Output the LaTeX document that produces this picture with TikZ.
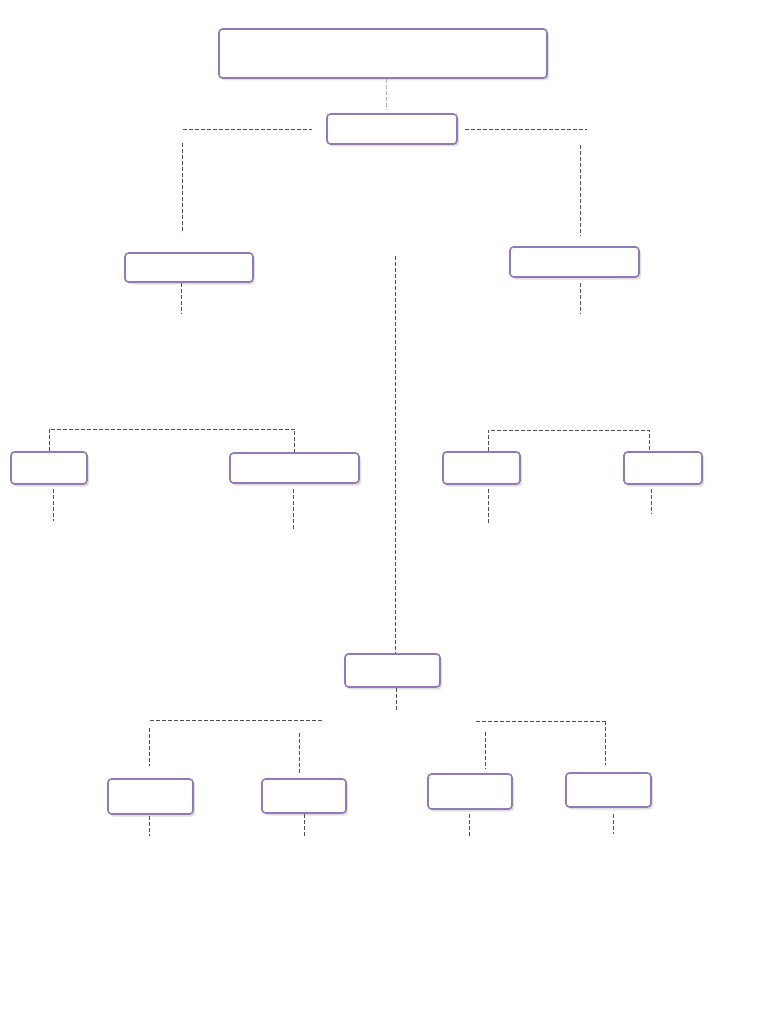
\documentclass[tikz,border=0pt]{standalone}
\usepackage{tikz}
\usetikzlibrary{shadows}
\usepackage{xcolor}
\definecolor{boxline}{RGB}{148,120,190}
\definecolor{linkgray}{RGB}{80,80,80}

\begin{document}
\begin{tikzpicture}[x=1pt,y=-1pt]
\tikzstyle{block} = [rectangle, draw=boxline, line width=1.6pt, fill=white,
rounded corners=3.5pt, inner sep=0pt,
drop shadow={opacity=0.25, shadow xshift=2pt, shadow yshift=-2.5pt}]
\tikzstyle{line} = [draw=linkgray, line width=0.8pt, dash pattern=on 4pt off 2pt];
\tikzstyle{faint} = [draw=gray!60, line width=1pt, dash pattern=on 4pt off 2pt];
\useasboundingbox (0,0) rectangle (768,1024);

% row 1
\node [block, minimum width=328pt, minimum height=49pt] (title) at (383,53.5) {};
\node [block, minimum width=130pt, minimum height=30pt] (root) at (392,129) {};
% row 2
\node [block, minimum width=128pt, minimum height=29pt] (lft) at (189,267.5) {};
\node [block, minimum width=129pt, minimum height=30pt] (rgt) at (574.5,262) {};
% row 3
\node [block, minimum width=76pt, minimum height=32pt] (lfta) at (49,468) {};
\node [block, minimum width=129pt, minimum height=30pt] (lftb) at (294.5,468) {};
\node [block, minimum width=77pt, minimum height=32pt] (rgta) at (481.5,468) {};
\node [block, minimum width=78pt, minimum height=32pt] (rgtb) at (663,468) {};
% row 4
\node [block, minimum width=95pt, minimum height=33pt] (hub) at (392.5,670.5) {};
% row 5
\node [block, minimum width=85pt, minimum height=35pt] (huba) at (150.5,796.5) {};
\node [block, minimum width=84pt, minimum height=34pt] (hubb) at (304,796) {};
\node [block, minimum width=84pt, minimum height=35pt] (hubc) at (470,791.5) {};
\node [block, minimum width=85pt, minimum height=34pt] (hubd) at (608.5,790) {};

\coordinate (rootup) at (386,110);
\coordinate (spine) at (395,256);
\coordinate (lcorner) at (49,429);
\coordinate (rcorner) at (488,430);
\coordinate (rcorner2) at (649,430);

\path[faint] (title.south -| rootup) -- (rootup);

% root branches
\path[line] (183,129) -- (312,129);
\path[line] (465,129) -- (587,129);
\path[line] (182,143) -- (182,233);
\path[line] (580,145) -- (580,236);

% spine to hub
\path[line] (spine) -- (hub.north -| spine);

% brackets of row 3
\path[line] (lfta.north) -- (lcorner) -- (lcorner -| lftb) -- (lftb.north);
\path[line] (rgta.north -| rcorner) -- (rcorner) -- (rcorner2) -- (rgtb.north -| rcorner2);

% brackets of row 5
\path[line] (150,720) -- (322,720);
\path[line] (149,728) -- (149,766);
\path[line] (299,733) -- (299,773);
\path[line] (476,721) -- (606,721);
\path[line] (485,732) -- (485,769);
\path[line] (605,721) -- (605,765);

% stubs below boxes
\foreach \n/\x/\gap/\len in {lft/181/0/31, rgt/580/5/31, lfta/53/4/32, lftb/293/5/40,
  rgta/488/4/34, rgtb/651/4/25, hub/396/0/23, huba/149/1/20, hubb/304/0/22,
  hubc/469/4/22, hubd/613/6/20}
  \path[line] ([yshift=-\gap pt]\n.south -| \x,0) -- ++(0,\len);

\end{tikzpicture}
\end{document}
